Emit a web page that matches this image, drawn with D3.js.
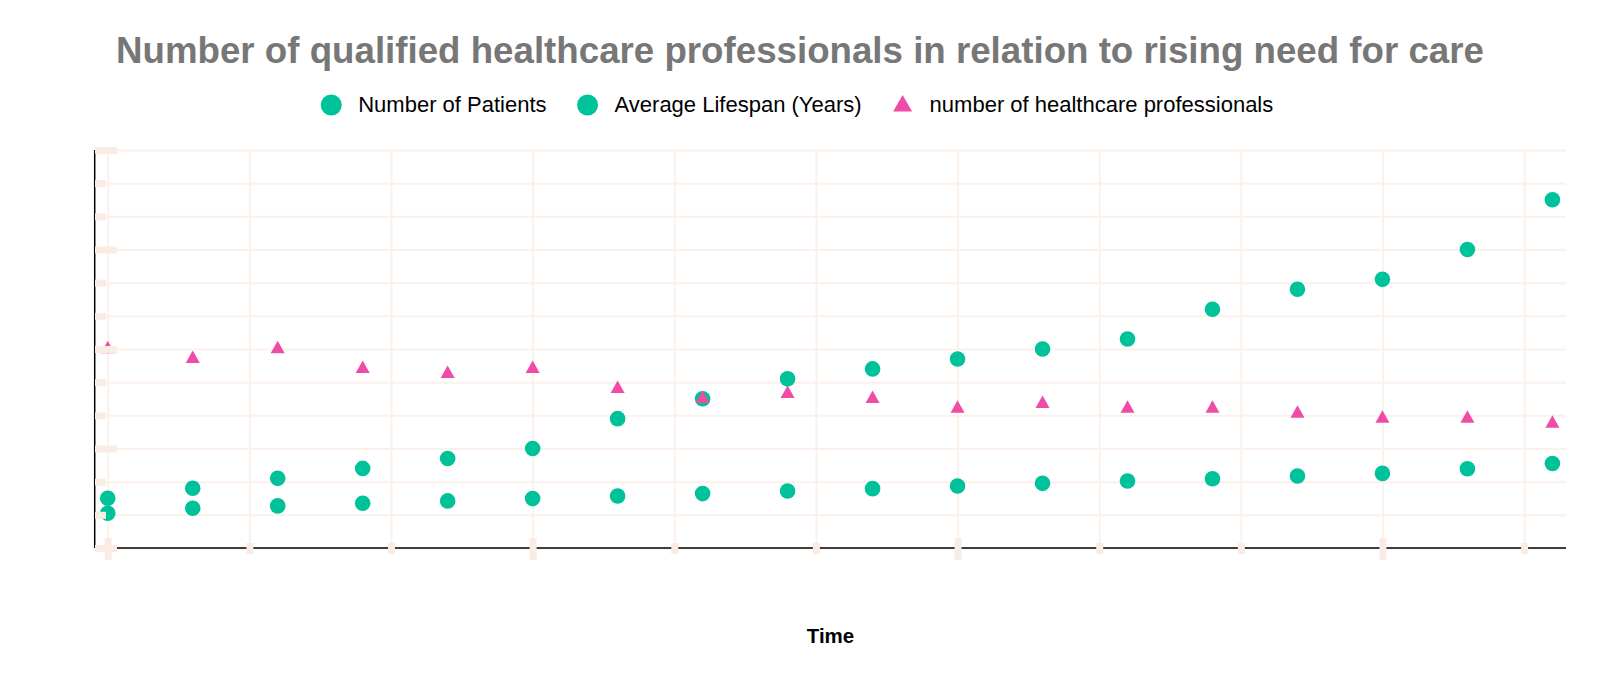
<!DOCTYPE html>
<html>
<head>
<meta charset="utf-8">
<script src="https://cdn.jsdelivr.net/npm/d3@7"></script>
<style>
  body { margin: 0; background: #fff; }
  svg { display: block; font-family: "Liberation Sans", Arial, Helvetica, sans-serif; }
</style>
</head>
<body>
<svg width="1600" height="682"></svg>
<script>
// time steps along the x axis (no labels shown in the chart)
const timeSteps = [0, 1, 2, 3, 4, 5, 6, 7, 8, 9, 10, 11, 12, 13, 14, 15, 16, 17];

const patients = [15, 18, 21, 24, 27, 30, 39, 45, 51, 54, 57, 60, 63, 72, 78, 81, 90, 105];
const lifespan = [10.5, 12, 12.7, 13.5, 14.2, 14.9, 15.7, 16.4, 17.2, 17.9, 18.7, 19.5, 20.2, 20.9, 21.7, 22.5, 23.9, 25.5];
const professionals = [60, 57, 60, 54, 52.5, 54, 48, 45, 46.5, 45, 42, 43.5, 42, 42, 40.5, 39, 39, 37.5];

const seriesNames = ["Number of Patients", "Average Lifespan (Years)", "number of healthcare professionals"];
const seriesColors = ["#00c29a", "#00c29a", "#f04ba6"];

// tick positions (labels are hidden in the original)
const xMajorTicks = [0, 5, 10, 15];
const xMinorTicks = [5 / 3, 10 / 3, 20 / 3, 25 / 3, 35 / 3, 40 / 3, 50 / 3];
const yMajorTicks = [0, 30, 60, 90, 120];
const yMinorTicks = [10, 20, 40, 50, 70, 80, 100, 110];

const svg = d3.select("svg");
const W = 1600;

const x = d3.scaleLinear().domain([-0.15, 17.16]).range([95, 1566]);
const y = d3.scaleLinear().domain([0, 120]).range([548, 150]);

const gridColor = "#fcf1ea";
const tickColor = "#f8ece4";

// title
svg.append("text")
  .attr("x", W / 2)
  .attr("y", 62.7)
  .attr("text-anchor", "middle")
  .style("font-size", "36.7px")
  .style("font-weight", "bold")
  .style("fill", "#777")
  .text("Number of qualified healthcare professionals in relation to rising need for care");

// gridlines
const xGrid = svg.append("g")
  .attr("transform", `translate(0,${y(0)})`)
  .call(d3.axisBottom(x).tickValues(xMajorTicks.concat(xMinorTicks)).tickSize(-(y(0) - y(120))).tickFormat(""));
const yGrid = svg.append("g")
  .attr("transform", `translate(${x.range()[0]},0)`)
  .call(d3.axisLeft(y).tickValues(yMajorTicks.concat(yMinorTicks)).tickSize(-(x.range()[1] - x.range()[0])).tickFormat(""));
[xGrid, yGrid].forEach(g => {
  g.select(".domain").remove();
  g.selectAll("line").attr("stroke", gridColor).attr("stroke-width", 2);
});

// axis lines
svg.append("line")
  .attr("x1", x.range()[0] - 0.3).attr("x2", x.range()[0] - 0.3)
  .attr("y1", y(120)).attr("y2", y(0))
  .attr("stroke", "#000").attr("stroke-width", 1.5);
svg.append("line")
  .attr("x1", x.range()[0]).attr("x2", x.range()[1])
  .attr("y1", y(0)).attr("y2", y(0))
  .attr("stroke", "#000").attr("stroke-width", 1.5);

// markers
const circleSeries = [patients, lifespan];
circleSeries.forEach((vals, si) => {
  svg.append("g")
    .selectAll("circle")
    .data(vals)
    .enter()
    .append("circle")
    .attr("cx", (d, i) => x(timeSteps[i]))
    .attr("cy", d => y(d))
    .attr("r", 7.8)
    .attr("fill", seriesColors[si]);
});

// triangle with its centroid on the point
function triPath(w, h) {
  return `M0,${-2 * h / 3} L${w / 2},${h / 3} L${-w / 2},${h / 3} Z`;
}
svg.append("g")
  .selectAll("path")
  .data(professionals)
  .enter()
  .append("path")
  .attr("d", triPath(14, 12.5))
  .attr("transform", (d, i) => `translate(${x(timeSteps[i])},${y(d)})`)
  .attr("fill", seriesColors[2]);

// tick marks (drawn over the markers, as in the original)
function styleTicks(g) {
  g.select(".domain").remove();
  g.selectAll("text").remove();
  g.selectAll("line").attr("stroke", tickColor).attr("stroke-width", 7);
}
svg.append("g")
  .attr("transform", `translate(${x.range()[0]},0)`)
  .call(d3.axisRight(y).tickValues(yMajorTicks).tickSize(22))
  .call(styleTicks);
svg.append("g")
  .attr("transform", `translate(${x.range()[0]},0)`)
  .call(d3.axisRight(y).tickValues(yMinorTicks).tickSize(11))
  .call(styleTicks);
svg.append("g")
  .attr("transform", `translate(0,${y(0) - 10})`)
  .call(d3.axisBottom(x).tickValues(xMajorTicks).tickSize(22))
  .call(styleTicks);
svg.append("g")
  .attr("transform", `translate(0,${y(0) - 5})`)
  .call(d3.axisBottom(x).tickValues(xMinorTicks).tickSize(11))
  .call(styleTicks);

// x axis title
svg.append("text")
  .attr("x", (x.range()[0] + x.range()[1]) / 2)
  .attr("y", 642.7)
  .attr("text-anchor", "middle")
  .style("font-size", "20.5px")
  .style("font-weight", "bold")
  .style("fill", "#000")
  .text("Time");

// legend
const legend = svg.append("g");
const legendY = 105;
let cursor = 0;
seriesNames.forEach((name, i) => {
  const item = legend.append("g").attr("transform", `translate(${cursor},0)`);
  if (i < 2) {
    item.append("circle").attr("cx", 0).attr("cy", legendY).attr("r", 10.5).attr("fill", seriesColors[i]);
  } else {
    item.append("path").attr("d", triPath(19, 16.5)).attr("transform", `translate(0,${legendY + 1})`).attr("fill", seriesColors[i]);
  }
  const t = item.append("text")
    .attr("x", 27)
    .attr("y", 112.2)
    .style("font-size", "22px")
    .style("fill", "#000")
    .text(name);
  cursor += 27 + t.node().getComputedTextLength() + 41;
});
const bb = legend.node().getBBox();
legend.attr("transform", `translate(${797 - (bb.x + bb.width / 2)},0)`);
</script>
</body>
</html>
